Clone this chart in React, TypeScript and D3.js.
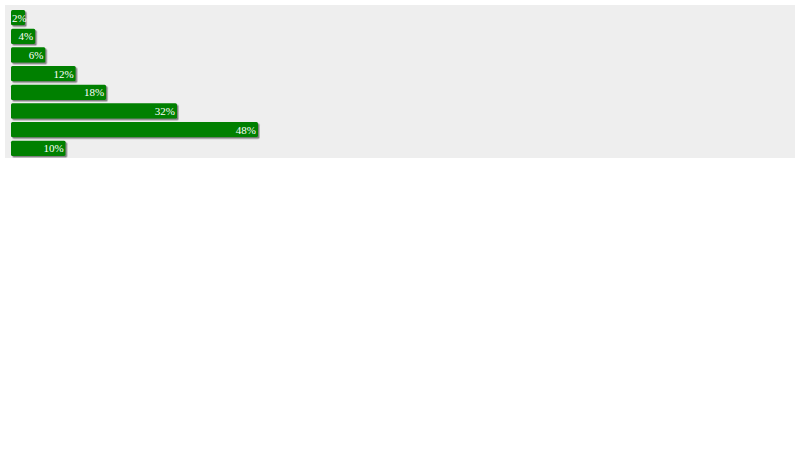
import React, { useEffect, useRef } from 'react'
import * as d3 from 'd3'

const values = [2, 4, 6, 12, 18, 32, 48, 10]
const labels = values.map(v => `${v}%`)

const App: React.FC = () => {
    const svgRef = useRef<SVGSVGElement>(null)

    useEffect(() => {
        if (!svgRef.current) return
        const svg = d3.select(svgRef.current)
        svg.selectAll("*").remove()

        const defs = svg.append("defs")
        defs.append("filter")
            .attr("id", "shadow")
            .attr("x", "-10%").attr("y", "-20%")
            .attr("width", "130%").attr("height", "160%")
            .append("feDropShadow")
            .attr("dx", 1.5).attr("dy", 1.5)
            .attr("stdDeviation", 0.7)
            .attr("flood-color", "#666")
            .attr("flood-opacity", 0.8)

        // panel
        svg.append("rect")
            .attr("x", 5).attr("y", 5)
            .attr("width", 790).attr("height", 153)
            .attr("fill", "#eeeeee")

        const x = d3.scaleLinear().domain([0, 48]).range([0, 243])
        const step = 18.25
        const y = d3.scaleBand<number>()
            .domain(d3.range(values.length))
            .range([10, 10 + step * values.length])
            .paddingInner(3.25 / step)
            .paddingOuter(0)

        const g = svg.append("g")

        const bars = g.selectAll("g.bar")
            .data(values)
            .enter().append("g")
            .attr("class", "bar")
            .attr("transform", (d, i) => `translate(11,${y(i)})`)

        bars.append("rect")
            .attr("width", d => x(d) + 4)
            .attr("height", y.bandwidth())
            .attr("rx", 1.5)
            .attr("fill", "#008000")
            .attr("filter", "url(#shadow)")

        bars.append("text")
            .attr("y", y.bandwidth() / 2)
            .attr("dy", "0.35em")
            .attr("text-anchor", "end")
            .style("font-family", "'Liberation Serif', 'Times New Roman', serif")
            .style("font-size", "11px")
            .style("fill", "#fff")
            .text((d, i) => labels[i])
            .attr("x", function (d) {
                // labels wider than the bar spill to the right, like overflowing text
                const tw = (this as SVGTextElement).getComputedTextLength()
                return Math.max(x(d) + 2, tw + 1)
            })
    }, [])

    return <svg ref={svgRef} width={800} height={450}
        style={{ position: 'absolute', left: 0, top: 0 }} />
}

export default App
